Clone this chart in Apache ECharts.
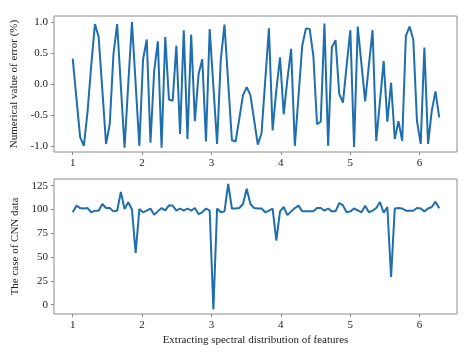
<!DOCTYPE html>
<html>
<head>
<meta charset="utf-8">
<script src="https://cdn.jsdelivr.net/npm/echarts@6/dist/echarts.min.js"></script>
<style>
html,body{margin:0;padding:0;background:#fff;}
#chart{width:474px;height:364px;}
</style>
</head>
<body>
<div id="chart"></div>
<script>
// Sample positions along x (evenly spaced from 1 to 2*pi, 100 samples)
const xStart = 1;
const xEnd = 6.2832;

// Top panel: numerical value of error (%)
const errorValues = [
  0.41, -0.23, -0.86, -1.0, -0.45, 0.3, 0.97, 0.76, -0.1, -0.97,
  -0.65, 0.48, 0.97, -0.03, -1.03, 0.0, 1.0, 0.0, -1.0, 0.4,
  0.72, -0.95, 0.21, 0.69, -1.03, 0.76, -0.25, -0.27, 0.62, -0.81,
  0.87, -0.89, 0.8, -0.6, 0.16, 0.4, -0.93, 0.89, -0.04, -0.97,
  0.4, 0.96, 0.02, -0.91, -0.93, -0.56, -0.18, -0.05, -0.18, -0.58,
  -0.98, -0.8, 0.05, 0.9, -0.75, -0.1, 0.43, -0.49, 0.08, 0.57,
  -1.0, -0.19, 0.62, 0.9, 0.89, 0.46, -0.65, -0.61, 0.98, -1.0,
  0.59, 0.71, -0.16, -0.3, 0.3, 0.87, -1.02, 0.93, 0.32, -0.28,
  0.3, 0.87, -0.92, -0.28, 0.37, -0.61, 0.02, -0.89, -0.6, -0.92,
  0.78, 0.93, 0.72, -0.6, -0.97, 0.59, -0.97, -0.43, -0.12, -0.54
];

// Bottom panel: the case of CNN data
const cnnValues = [
  97, 104, 101.5, 101, 101.5, 97, 98.7, 98.7, 105.7, 101.5,
  101.5, 98, 98.7, 118.5, 100.5, 107.5, 100, 54.3, 100.5, 97,
  98.7, 101, 94.5, 98, 101.5, 99, 104.3, 104, 98.7, 101,
  98.7, 101, 98.7, 101.5, 95, 97, 101, 98.7, -5, 101,
  97, 98, 126.8, 101, 101, 101.5, 105.7, 121.8, 105.7, 101.5,
  101, 101, 97, 98.7, 101, 67.4, 98, 102.6, 94, 98,
  101.5, 104, 98, 98, 98, 98, 101.5, 101.5, 98.7, 101,
  98, 98, 106.8, 104.3, 97, 98, 101, 99, 97, 104,
  97, 98.7, 101.5, 107.8, 96.5, 102.6, 29, 101, 101.5, 101,
  98.7, 98.7, 98.7, 101.5, 101, 98, 101, 102.6, 108.2, 101.3
];

const xTicks = [1, 2, 3, 4, 5, 6];
const errorTicks = [-1.0, -0.5, 0.0, 0.5, 1.0];
const cnnTicks = [0, 25, 50, 75, 100, 125];

const xTitle = 'Extracting spectral distribution of features';
const errorTitle = 'Numerical value of error (%)';
const cnnTitle = 'The case of CNN data';

const n = errorValues.length;
const xValues = errorValues.map((_, i) => xStart + i * (xEnd - xStart) / (n - 1));
const errorData = errorValues.map((v, i) => [xValues[i], v]);
const cnnData = cnnValues.map((v, i) => [xValues[i], v]);

const FONT = 'Liberation Serif';
const frame = '#8a8a8a';
const txt = '#222';
const lineColor = '#1f6eae';

function xAxis(gridIndex, withName) {
  return {
    type: 'value', gridIndex: gridIndex,
    min: 0.73, max: 6.54,
    splitLine: {show: false},
    axisLine: {show: false, onZero: false},
    axisTick: {show: true, length: 3, inside: false, customValues: xTicks, lineStyle: {color: frame}},
    axisLabel: {customValues: xTicks, margin: 6, fontFamily: FONT, fontSize: 11, color: txt},
    name: withName ? xTitle : '',
    nameLocation: 'middle', nameGap: 21,
    nameTextStyle: {fontFamily: FONT, fontSize: 11, color: txt}
  };
}

const option = {
  animation: false,
  backgroundColor: '#fff',
  grid: [
    {left: 54, right: 17, top: 16, height: 136, show: true, borderColor: frame, borderWidth: 1, backgroundColor: 'transparent'},
    {left: 54, right: 17, top: 179, height: 135, show: true, borderColor: frame, borderWidth: 1, backgroundColor: 'transparent'}
  ],
  xAxis: [xAxis(0, false), xAxis(1, true)],
  yAxis: [
    {
      type: 'value', gridIndex: 0, min: -1.10, max: 1.10,
      splitLine: {show: false}, axisLine: {show: false, onZero: false},
      axisTick: {show: true, length: 3, customValues: errorTicks, lineStyle: {color: frame}},
      axisLabel: {customValues: errorTicks, margin: 6, fontFamily: FONT, fontSize: 11, color: txt,
        formatter: v => v.toFixed(1)},
      name: errorTitle, nameLocation: 'middle', nameGap: 27, nameRotate: 90,
      nameTextStyle: {fontFamily: FONT, fontSize: 11, color: txt}
    },
    {
      type: 'value', gridIndex: 1, min: -9.8, max: 132,
      splitLine: {show: false}, axisLine: {show: false, onZero: false},
      axisTick: {show: true, length: 3, customValues: cnnTicks, lineStyle: {color: frame}},
      axisLabel: {customValues: cnnTicks, margin: 6, fontFamily: FONT, fontSize: 11, color: txt},
      name: cnnTitle, nameLocation: 'middle', nameGap: 27, nameRotate: 90,
      nameTextStyle: {fontFamily: FONT, fontSize: 11, color: txt}
    }
  ],
  series: [
    {type: 'line', xAxisIndex: 0, yAxisIndex: 0, data: errorData, showSymbol: false,
      lineStyle: {color: lineColor, width: 2}, itemStyle: {color: lineColor}},
    {type: 'line', xAxisIndex: 1, yAxisIndex: 1, data: cnnData, showSymbol: false,
      lineStyle: {color: lineColor, width: 2}, itemStyle: {color: lineColor}}
  ]
};

const chart = echarts.init(document.getElementById('chart'), null, {renderer: 'canvas'});
chart.setOption(option);
</script>
</body>
</html>
